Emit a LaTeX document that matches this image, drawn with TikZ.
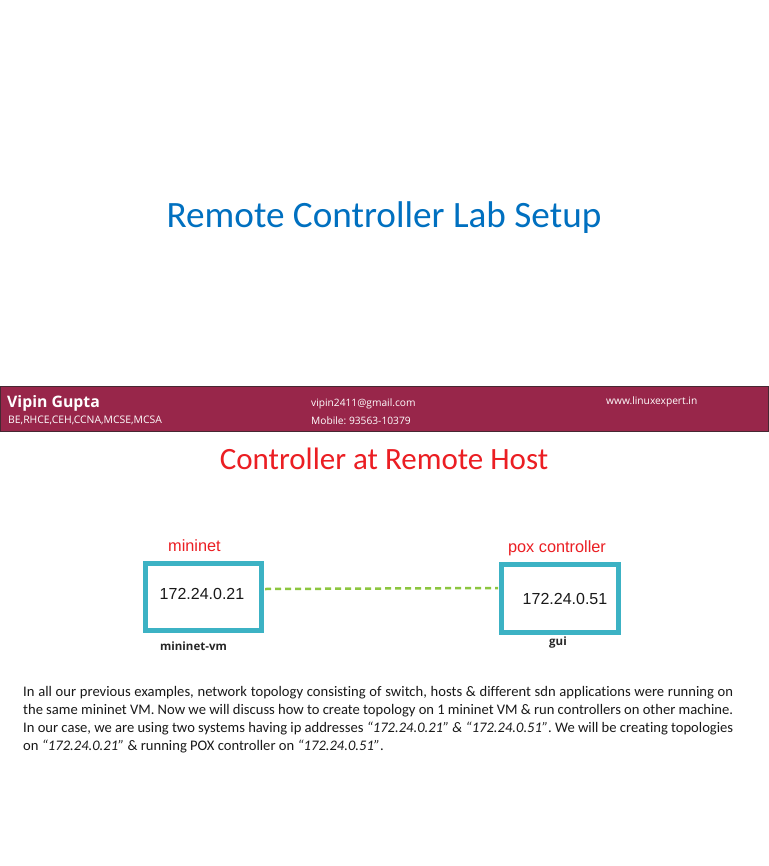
\documentclass[tikz,border=0pt]{standalone}
\usepackage{fontspec}
\setmainfont{Carlito}[Ligatures={NoCommon}]
\newfontfamily\bannerfont{Open Sans}
\newfontfamily\arialfont{Liberation Sans}
\definecolor{titleblue}{RGB}{0,112,192}
\definecolor{banner}{RGB}{152,38,74}
\definecolor{bannerline}{RGB}{70,40,50}
\definecolor{teal}{RGB}{60,178,196}
\definecolor{linkgreen}{RGB}{140,198,63}
\definecolor{redlabel}{RGB}{235,30,35}
\tikzset{
  hostbox/.style={draw=teal, line width=5pt, fill=white},
  iptext/.style={font=\arialfont\fontsize{16}{18}\selectfont, text=black!90},
  redtext/.style={font=\arialfont\fontsize{16.3}{18}\selectfont, text=redlabel},
  captext/.style={font=\bannerfont\bfseries\fontsize{11.5}{13}\selectfont, text=black!85},
  bantext/.style={font=\bannerfont\fontsize{10.2}{12}\selectfont, text=white, anchor=base west, inner sep=0pt},
  paraline/.style={font=\fontsize{14.6}{16}\selectfont, text=black!90, anchor=base west, inner sep=0pt},
  link/.style={draw=linkgreen, line width=2.5pt, dash pattern=on 6pt off 4pt}
}
\frenchspacing
\begin{document}
\begin{tikzpicture}[x=1pt,y=-1pt]
\useasboundingbox (0,0) rectangle (768,866);
\fill[white] (0,0) rectangle (768,866);
% title
\node[font=\fontsize{37.2}{42}\selectfont, text=titleblue] (title) at (384,218) {Remote Controller Lab Setup};
% banner
\path[fill=banner, draw=bannerline, line width=1pt] (0,386) rectangle (768,431);
\node[font=\bannerfont\bfseries\fontsize{15.8}{18}\selectfont, text=white, anchor=base west, inner sep=0pt] (name) at (7,407) {Vipin Gupta};
\node[bantext, font=\bannerfont\fontsize{10.4}{12}\selectfont] (quals) at (8,423) {BE,RHCE,CEH,CCNA,MCSE,MCSA};
\node[bantext] (mail) at (311,406) {vipin2411@gmail.com};
\node[bantext] (mob) at (311,424) {Mobile: 93563-10379};
\node[bantext] (web) at (606,404) {www.linuxexpert.in};
% heading
\node[font=\fontsize{31}{36}\selectfont, text=redlabel] (head) at (384,459) {Controller at Remote Host};
% diagram
\node[hostbox, minimum width=116pt, minimum height=67pt] (h1) at (203.5,596.5) {};
\node[hostbox, minimum width=117pt, minimum height=68pt] (h2) at (560,598.5) {};
\node[iptext] (ip1) at (202,594) {172.24.0.21};
\node[iptext] (ip2) at (565,599) {172.24.0.51};
\node[redtext] (l1) at (194.5,546) {mininet};
\node[redtext] (l2) at (557,548) {pox controller};
\node[captext] (c1) at (193.5,646) {mininet-vm};
\node[captext] (c2) at (558,643) {gui};
\coordinate (a) at (h1.east |- 0,589);
\coordinate (b) at (h2.west |- 0,588);
\draw[link] ([xshift=1pt]a) -- ([xshift=-1pt]b);
% paragraph
\node[paraline] (p1) at (23,696) {\makebox[710pt][s]{In all our previous examples, network topology consisting of switch, hosts \& different sdn applications were running on}};
\node[paraline] (p2) at (23,714) {\makebox[710pt][s]{the same mininet VM. Now we will discuss how to create topology on 1 mininet VM \& run controllers on other machine.}};
\node[paraline] (p3) at (23,732) {\makebox[710pt][s]{In our case, we are using two systems having ip addresses \textit{“172.24.0.21” \& “172.24.0.51”}. We will be creating topologies}};
\node[paraline] (p4) at (23,750) {on \textit{“172.24.0.21”} \& running POX controller on \textit{“172.24.0.51”}.};
\end{tikzpicture}
\end{document}
